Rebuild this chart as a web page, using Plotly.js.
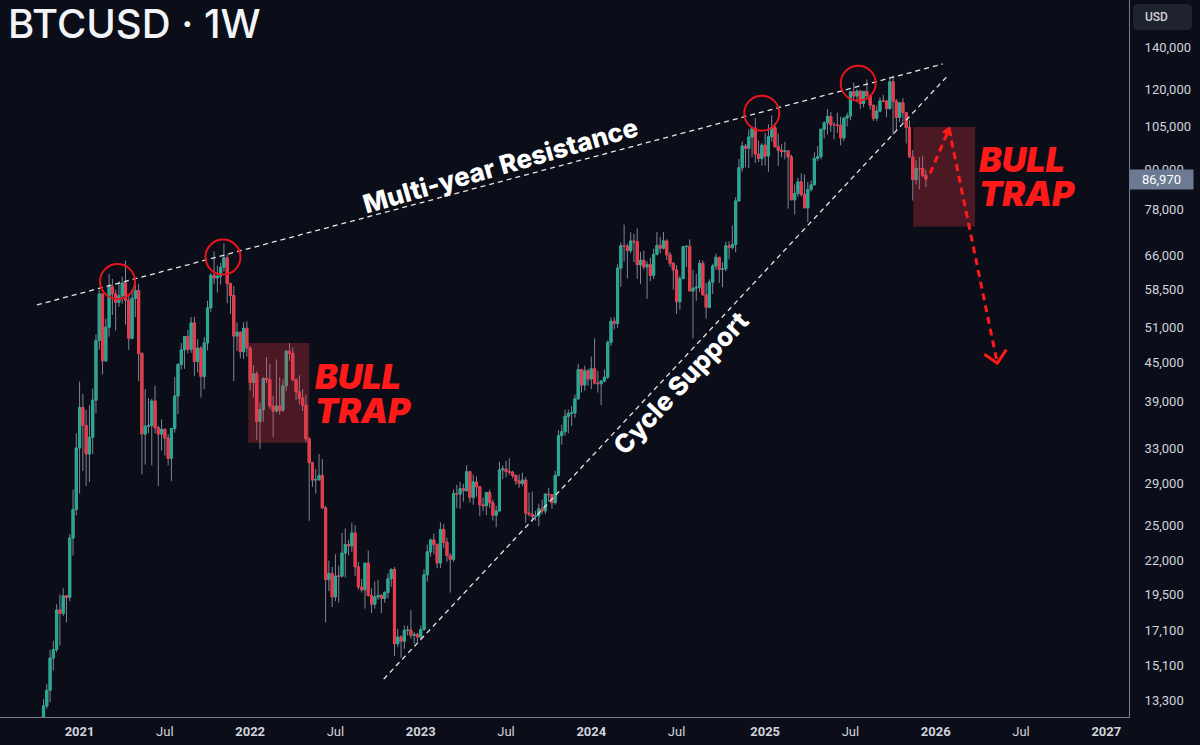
<!DOCTYPE html>
<html><head><meta charset="utf-8">
<script src="https://cdn.plot.ly/plotly-3.0.1.min.js"></script>
<style>html,body{margin:0;padding:0;background:#0b0e18;}#chart{width:1200px;height:745px;}</style>
</head><body><div id="chart"></div>
<script>
// ---------- weekly BTCUSD candles (week start dates) ----------
const weeks = [
'2020-10-19','2020-10-26','2020-11-02','2020-11-09','2020-11-16','2020-11-23','2020-11-30','2020-12-07','2020-12-14','2020-12-21','2020-12-28',
'2021-01-04','2021-01-11','2021-01-18','2021-01-25','2021-02-01','2021-02-08','2021-02-15','2021-02-22','2021-03-01','2021-03-08','2021-03-15','2021-03-22','2021-03-29','2021-04-05','2021-04-12','2021-04-19','2021-04-26','2021-05-03','2021-05-10','2021-05-17','2021-05-24','2021-05-31','2021-06-07','2021-06-14','2021-06-21','2021-06-28','2021-07-05','2021-07-12','2021-07-19','2021-07-26','2021-08-02','2021-08-09','2021-08-16','2021-08-23','2021-08-30','2021-09-06','2021-09-13','2021-09-20','2021-09-27','2021-10-04','2021-10-11','2021-10-18','2021-10-25','2021-11-01','2021-11-08','2021-11-15','2021-11-22','2021-11-29','2021-12-06','2021-12-13','2021-12-20','2021-12-27',
'2022-01-03','2022-01-10','2022-01-17','2022-01-24','2022-01-31','2022-02-07','2022-02-14','2022-02-21','2022-02-28','2022-03-07','2022-03-14','2022-03-21','2022-03-28','2022-04-04','2022-04-11','2022-04-18','2022-04-25','2022-05-02','2022-05-09','2022-05-16','2022-05-23','2022-05-30','2022-06-06','2022-06-13','2022-06-20','2022-06-27','2022-07-04','2022-07-11','2022-07-18','2022-07-25','2022-08-01','2022-08-08','2022-08-15','2022-08-22','2022-08-29','2022-09-05','2022-09-12','2022-09-19','2022-09-26','2022-10-03','2022-10-10','2022-10-17','2022-10-24','2022-10-31','2022-11-07','2022-11-14','2022-11-21','2022-11-28','2022-12-05','2022-12-12','2022-12-19','2022-12-26',
'2023-01-02','2023-01-09','2023-01-16','2023-01-23','2023-01-30','2023-02-06','2023-02-13','2023-02-20','2023-02-27','2023-03-06','2023-03-13','2023-03-20','2023-03-27','2023-04-03','2023-04-10','2023-04-17','2023-04-24','2023-05-01','2023-05-08','2023-05-15','2023-05-22','2023-05-29','2023-06-05','2023-06-12','2023-06-19','2023-06-26','2023-07-03','2023-07-10','2023-07-17','2023-07-24','2023-07-31','2023-08-07','2023-08-14','2023-08-21','2023-08-28','2023-09-04','2023-09-11','2023-09-18','2023-09-25','2023-10-02','2023-10-09','2023-10-16','2023-10-23','2023-10-30','2023-11-06','2023-11-13','2023-11-20','2023-11-27','2023-12-04','2023-12-11','2023-12-18','2023-12-25',
'2024-01-01','2024-01-08','2024-01-15','2024-01-22','2024-01-29','2024-02-05','2024-02-12','2024-02-19','2024-02-26','2024-03-04','2024-03-11','2024-03-18','2024-03-25','2024-04-01','2024-04-08','2024-04-15','2024-04-22','2024-04-29','2024-05-06','2024-05-13','2024-05-20','2024-05-27','2024-06-03','2024-06-10','2024-06-17','2024-06-24','2024-07-01','2024-07-08','2024-07-15','2024-07-22','2024-07-29','2024-08-05','2024-08-12','2024-08-19','2024-08-26','2024-09-02','2024-09-09','2024-09-16','2024-09-23','2024-09-30','2024-10-07','2024-10-14','2024-10-21','2024-10-28','2024-11-04','2024-11-11','2024-11-18','2024-11-25','2024-12-02','2024-12-09','2024-12-16','2024-12-23','2024-12-30',
'2025-01-06','2025-01-13','2025-01-20','2025-01-27','2025-02-03','2025-02-10','2025-02-17','2025-02-24','2025-03-03','2025-03-10','2025-03-17','2025-03-24','2025-03-31','2025-04-07','2025-04-14','2025-04-21','2025-04-28','2025-05-05','2025-05-12','2025-05-19','2025-05-26','2025-06-02','2025-06-09','2025-06-16','2025-06-23','2025-06-30','2025-07-07','2025-07-14','2025-07-21','2025-07-28','2025-08-04','2025-08-11','2025-08-18','2025-08-25','2025-09-01','2025-09-08','2025-09-15','2025-09-22','2025-09-29','2025-10-06','2025-10-13','2025-10-20','2025-10-27','2025-11-03','2025-11-10','2025-11-17','2025-11-24','2025-12-01','2025-12-08','2025-12-15'
];
const open = [
11500,13030,13780,15480,15960,18410,18180,19370,19270,23860,26450,
33000,38200,35800,32300,34300,39200,48600,57500,45200,51000,59000,57500,55800,57100,59800,56200,49000,56600,58200,46400,34700,35700,35800,39100,35500,34700,35300,34200,31800,35400,39800,44600,47000,49300,47100,51800,45100,47300,42700,48200,54700,61500,60900,61300,63300,65500,59700,57200,49400,50100,46700,50800,
47300,41800,43100,36300,37900,42400,42200,38400,37700,38400,37800,41300,46800,46400,42200,40400,39500,38500,34100,31300,29400,29450,29900,26600,20550,21000,19300,20800,20790,22600,23300,23200,24300,21500,20000,19800,21800,19400,18800,19300,19400,19200,19600,20600,21300,16300,16700,16450,17100,17120,16800,16850,
16700,17150,20900,22700,23700,23300,21800,24600,23500,22400,22100,28000,27950,28500,28300,30300,27600,29200,28700,26900,26800,28100,27100,25900,26300,30500,30600,30300,30250,29900,29300,29050,29400,26100,26000,25800,25850,26500,26300,27950,27900,27100,29900,34500,35000,37000,37400,37450,39400,43800,41400,43600,
42300,43900,41700,41600,42000,42600,48300,52100,51700,63100,68400,68300,67200,69600,69400,63900,64900,63400,63900,61500,66300,68500,67800,69600,66200,64200,62700,55900,60800,68200,68250,58100,58700,58900,64200,57300,54800,60000,63600,65600,62800,62900,68400,68000,68700,80400,90600,98000,97200,101200,104500,95200,93700,
98300,94500,101300,104700,97700,96500,96100,96300,94200,80700,82600,86100,82300,78400,83800,85200,93700,94300,104100,106500,109000,105700,105700,105600,100900,108400,109200,119100,117300,119400,114200,119300,117400,113500,108300,111100,115300,115250,112200,123500,115200,108600,114500,110500,104700,94200,86800,90400,90300,88200
];
const high = [
13350,14100,15960,16480,18790,19480,19920,19420,24200,28400,34800,
41950,40100,37850,38500,40900,49700,58350,57500,52600,61800,60700,58400,60200,61200,64850,57500,58400,59500,59600,46600,40800,39500,39400,41300,35750,36600,35400,34700,35400,42600,44800,48200,49400,50500,52900,52950,48850,47600,49200,56100,62000,67000,63700,64300,69000,66300,59900,59200,51900,50200,51900,52100,
47600,44500,43500,38900,42600,45800,44700,39800,45400,42600,42300,46900,48200,47400,42400,42900,40800,40000,34300,31400,30600,32300,31700,26800,22000,21500,22500,21600,24300,24700,23700,25200,25000,21900,20600,21800,22800,19900,20400,20500,19500,19700,21000,21400,21500,17200,16800,17400,17400,18400,17000,16950,
17400,21300,23300,23800,24250,23400,25250,25100,23900,22600,28400,28900,29200,29000,31000,30400,30000,29800,28700,27600,27500,28400,27400,26800,31400,31000,31500,31800,30400,30000,30000,30200,29700,28100,28200,26300,27000,27400,28000,28600,27900,30400,35200,35900,37900,37900,38400,40000,44700,43800,44400,43900,
45900,49000,43600,42200,43800,48600,52800,52900,64000,69200,73800,68900,71800,71400,72800,66900,67200,64700,65500,67700,71900,70600,71900,70000,66900,64500,63800,61400,68300,68500,70000,62700,61800,65000,64900,59800,60600,64100,66500,65600,64400,69400,69500,73600,81500,93500,99600,98700,104000,105200,108300,99900,99000,
102700,106000,109500,106500,102500,98800,99500,96500,95000,85300,87400,88800,88500,86100,86500,95800,97900,104300,107100,111900,110700,106800,110500,108900,108500,110500,119400,123200,120200,120000,119300,124500,117600,113600,113400,116800,117900,115400,125700,126200,116000,114000,116400,110800,107500,96600,93100,94200,94600,90000
];
const low = [
11400,12900,13200,14800,15800,16200,18000,17600,19000,22400,25900,
28000,30400,28800,29200,32300,37400,47000,43000,45000,49300,53300,50400,54900,55500,51500,47000,48800,52900,42000,30000,31100,34800,31000,34800,28800,32700,32100,31000,29300,34900,37300,43800,43900,46400,46500,42800,43300,39600,40800,46900,53900,59600,57800,59500,62300,55600,53500,42000,46800,45600,45500,45900,
40600,39600,34000,32900,36300,41700,38000,34300,37500,37200,37600,40500,45200,42000,39200,38600,37700,33700,25400,28700,28000,29300,26500,17600,19700,18600,19000,18900,20700,20700,22400,22700,20800,19800,19600,18500,19300,18200,18500,19100,18200,18900,19200,20000,15600,16100,15500,16000,16800,16600,16300,16400,
16500,17100,20400,22300,22500,21400,21400,23000,21900,19600,21900,26600,26500,27200,28200,27100,26900,27700,25800,26300,25900,26600,25400,24800,26300,29500,29700,29950,29600,28900,28600,28800,25200,25800,25300,25400,24900,26000,26000,27200,26500,26900,29800,33400,34500,34800,35700,36800,39300,40300,40600,41300,
40800,41500,40300,38500,41800,42300,47700,50600,50900,59000,64600,60800,66600,64500,60700,59600,62800,56500,60200,60700,66100,66600,67500,65000,63400,58400,53500,54300,60600,63400,61000,49000,56100,57900,57200,52600,54600,57500,62700,59800,58900,62400,65100,67500,66800,80200,89400,90800,90500,94200,92200,92500,91300,
91300,89300,99500,97800,91200,94100,93400,78200,81400,76600,81600,81600,81300,74500,83100,85100,92800,93400,100700,102100,103100,100400,102700,98200,99700,105100,107500,115700,114700,112000,112600,116800,111700,107300,107300,110600,114700,108700,111600,102000,103600,106700,106300,98900,94000,80500,85300,83800,87600,84500
];
const close = [
13030,13780,15480,15960,18410,18180,19370,19270,23860,26450,33000,
38200,35800,32300,34300,39200,48600,57500,45200,51000,59000,57500,55800,57100,59800,56200,49000,56600,58200,46400,34700,35700,35800,39100,35500,34700,35300,34200,31800,35400,39800,44600,47000,49300,47100,51800,45100,47300,42700,48200,54700,61500,60900,61300,63300,65500,59700,57200,49400,50100,46700,50800,47300,
41800,43100,36300,37900,42400,42200,38400,37700,38400,37800,41300,46800,46400,42200,40400,39500,38500,34100,31300,29400,29450,29900,26600,20550,21000,19300,20800,20790,22600,23300,23200,24300,21500,20000,19800,21800,19400,18800,19300,19400,19200,19600,20600,21300,16300,16700,16450,17100,17120,16800,16850,16700,
17150,20900,22700,23700,23300,21800,24600,23500,22400,22100,28000,27950,28500,28300,30300,27600,29200,28700,26900,26800,28100,27100,25900,26300,30500,30600,30300,30250,29900,29300,29050,29400,26100,26000,25800,25850,26500,26300,27950,27900,27100,29900,34500,35000,37000,37400,37450,39400,43800,41400,43600,42300,
43900,41700,41600,42000,42600,48300,52100,51700,63100,68400,68300,67200,69600,69400,63900,64900,63400,63900,61500,66300,68500,67800,69600,66200,64200,62700,55900,60800,68200,68250,58100,58700,58900,64200,57300,54800,60000,63600,65600,62800,62900,68400,68000,68700,80400,90600,98000,97200,101200,104500,95200,93700,98300,
94500,101300,104700,97700,96500,96100,96300,94200,80700,82600,86100,82300,78400,83800,85200,93700,94300,104100,106500,109000,105700,105700,105600,100900,108400,109200,119100,117300,119400,114200,119300,117400,113500,108300,111100,115300,115250,112200,123500,115200,108600,114500,110500,104700,94200,86800,90400,90300,88200,86970
];
const lastPrice = 86970;

// ---------- axis ticks ----------
const priceTicks = [13300,15100,17100,19500,22000,25000,29000,33000,39000,45000,51000,58500,66000,78000,90000,105000,120000,140000];
const timeTicks = ['2021-01-04','2021-07-05','2022-01-03','2022-07-04','2023-01-02','2023-07-03','2024-01-01','2024-07-01','2025-01-06','2025-07-07','2026-01-05','2026-07-06','2027-01-04'];
const timeTickLabels = ['2021','Jul','2022','Jul','2023','Jul','2024','Jul','2025','Jul','2026','Jul','2027'];

// ---------- drawings (date, price) ----------
const resistance = [['2020-10-05', 55270], ['2026-01-19 22:00', 131690]];
const support = [['2022-10-15', 14350], ['2026-02-01', 126580]];
const peakCircles = [['2021-03-26', 60130], ['2021-11-06', 65660], ['2024-12-29 19:00', 110270], ['2025-07-23 14:00', 122870]];
const trapBoxes = [[['2021-12-29 22:00', 33620], ['2022-05-09', 48190]], [['2025-11-18', 73340], ['2026-03-29 22:00', 104900]]];
const arrowPath = [['2025-12-23 22:00', 88760], ['2026-02-02 10:00', 104220], ['2026-05-16 10:00', 44800]];

// ---------- styles ----------
const BG = '#0b0e18', UP = '#22ab94', DOWN = '#f23645', WICK = '#7e8596', RED = '#ff1a1a';
const W = 1129, H = 717;
const px = v => v / W, py = v => 1 - v / H;
const L10 = v => Math.log10(v);

const bodyHigh = open.map((o, i) => Math.max(o, close[i]));
const bodyLow = open.map((o, i) => Math.min(o, close[i]));

const wickTrace = {
  type: 'candlestick', x: weeks, open: open, high: high, low: low, close: close,
  increasing: {line: {color: WICK, width: 1}, fillcolor: WICK},
  decreasing: {line: {color: WICK, width: 1}, fillcolor: WICK},
  whiskerwidth: 0, hoverinfo: 'skip', showlegend: false
};
const bodyTrace = {
  type: 'candlestick', x: weeks, open: open, high: bodyHigh, low: bodyLow, close: close,
  increasing: {line: {color: UP, width: 0.8}, fillcolor: UP},
  decreasing: {line: {color: DOWN, width: 0.8}, fillcolor: DOWN},
  whiskerwidth: 0, hoverinfo: 'skip', showlegend: false
};

function roundRect(x0, y0, x1, y1, r) {
  return 'M' + px(x0 + r) + ',' + py(y0) + ' L' + px(x1 - r) + ',' + py(y0) +
    ' Q' + px(x1) + ',' + py(y0) + ' ' + px(x1) + ',' + py(y0 + r) +
    ' L' + px(x1) + ',' + py(y1 - r) + ' Q' + px(x1) + ',' + py(y1) + ' ' + px(x1 - r) + ',' + py(y1) +
    ' L' + px(x0 + r) + ',' + py(y1) + ' Q' + px(x0) + ',' + py(y1) + ' ' + px(x0) + ',' + py(y1 - r) +
    ' L' + px(x0) + ',' + py(y0 + r) + ' Q' + px(x0) + ',' + py(y0) + ' ' + px(x0 + r) + ',' + py(y0) + ' Z';
}
// circle of radius r (pixels) as a bezier path around its anchor
function circlePath(r) {
  const k = 0.5523 * r;
  return 'M' + r + ',0 C' + r + ',' + k + ' ' + k + ',' + r + ' 0,' + r +
    ' C' + (-k) + ',' + r + ' ' + (-r) + ',' + k + ' ' + (-r) + ',0' +
    ' C' + (-r) + ',' + (-k) + ' ' + (-k) + ',' + (-r) + ' 0,' + (-r) +
    ' C' + k + ',' + (-r) + ' ' + r + ',' + (-k) + ' ' + r + ',0 Z';
}

const dashWhite = {color: '#e6e6e6', width: 1.3, dash: '5px,4px'};
const dashRed = {color: RED, width: 3, dash: '7px,5px'};
const shapes = [];
trapBoxes.forEach(b => shapes.push({type: 'rect', xref: 'x', yref: 'y', x0: b[0][0], y0: b[0][1], x1: b[1][0], y1: b[1][1],
  fillcolor: 'rgba(242,54,69,0.28)', line: {width: 0}, layer: 'above'}));
[resistance, support].forEach(l => shapes.push({type: 'line', xref: 'x', yref: 'y', x0: l[0][0], y0: l[0][1], x1: l[1][0], y1: l[1][1], line: dashWhite, layer: 'above'}));
peakCircles.forEach(c => shapes.push({type: 'path', xref: 'x', yref: 'y', xsizemode: 'pixel', ysizemode: 'pixel',
  xanchor: c[0], yanchor: c[1], path: circlePath(17.5), line: {color: '#e8141c', width: 2}, layer: 'above'}));
shapes.push({type: 'line', xref: 'x', yref: 'y', x0: arrowPath[0][0], y0: arrowPath[0][1], x1: arrowPath[1][0], y1: arrowPath[1][1], line: dashRed, layer: 'above'});
shapes.push({type: 'line', xref: 'x', yref: 'y', x0: arrowPath[1][0], y0: arrowPath[1][1], x1: arrowPath[2][0], y1: arrowPath[2][1], line: dashRed, layer: 'above'});
shapes.push({type: 'path', xref: 'x', yref: 'y', xsizemode: 'pixel', ysizemode: 'pixel', xanchor: arrowPath[1][0], yanchor: arrowPath[1][1],
  path: 'M0.8,2 L2.5,-7 L-6.5,-3 Z', fillcolor: RED, line: {color: RED, width: 1}, layer: 'above'});
shapes.push({type: 'path', xref: 'x', yref: 'y', xsizemode: 'pixel', ysizemode: 'pixel', xanchor: arrowPath[2][0], yanchor: arrowPath[2][1],
  path: 'M-13,9 L0,0 L9,13.5', line: {color: RED, width: 3}, layer: 'above'});
// currency box
shapes.push({type: 'path', xref: 'paper', yref: 'paper', path: roundRect(1133, 4, 1192, 30, 5), fillcolor: '#1f232e', line: {width: 0}, layer: 'above'});

const trapFont = {family: 'Inter, Liberation Sans, sans-serif', size: 34, color: RED, weight: 900, style: 'italic'};
const labelFont = {family: 'Inter, sans-serif', size: 26, color: '#ffffff', weight: 800};
const trapText = (x, price, text) => ({xref: 'x', yref: 'y', x: x, y: L10(price), xanchor: 'left', yanchor: 'middle',
  height: 30, valign: 'middle', borderpad: 0, showarrow: false, text: text, font: trapFont});
const annotations = [
  {xref: 'paper', yref: 'paper', x: px(6), y: py(23), xanchor: 'left', yanchor: 'middle', showarrow: false,
   text: 'BTCUSD · 1W', font: {family: 'Inter, sans-serif', size: 40, color: '#f2f4f8', weight: 500}},
  {xref: 'paper', yref: 'paper', x: px(1143), y: py(17), xanchor: 'left', yanchor: 'middle', showarrow: false,
   text: 'USD', font: {family: 'Roboto, sans-serif', size: 12, color: '#d1d4dc', weight: 500}},
  // last price tag (drawn over the 90,000 tick like the reference)
  {xref: 'paper', yref: 'y', x: px(1129), y: L10(lastPrice), xanchor: 'left', yanchor: 'middle', showarrow: false,
   text: lastPrice.toLocaleString('en-US'), width: 63, height: 19, borderpad: 0, align: 'center', valign: 'middle',
   bgcolor: '#6c7a93', font: {family: 'Roboto, sans-serif', size: 13, color: '#ffffff'}},
  {xref: 'x', yref: 'y', x: '2023-06-20', y: L10(91500), showarrow: false, textangle: -16, text: 'Multi-year Resistance', font: labelFont},
  {xref: 'x', yref: 'y', x: '2024-07-10 17:00', y: L10(41750), showarrow: false, textangle: -47, text: 'Cycle Support', font: labelFont},
  trapText('2022-05-20', 42710, 'BULL'),
  trapText('2022-05-20', 37790, 'TRAP'),
  trapText('2026-04-06', 93660, 'BULL'),
  trapText('2026-04-06', 82830, 'TRAP')
];

const layout = {
  width: 1200, height: 745,
  paper_bgcolor: BG, plot_bgcolor: BG,
  margin: {l: 0, r: 71, t: 0, b: 28, pad: 0},
  showlegend: false, hovermode: false,
  boxgap: 0.2, boxgroupgap: 0.2,
  xaxis: {
    type: 'date', range: ['2020-07-18 04:20', '2027-02-21 10:00'], rangeslider: {visible: false},
    showgrid: false, zeroline: false, ticks: '', tickmode: 'array', tickvals: timeTicks,
    ticktext: timeTickLabels.map(t => t === 'Jul' ? t : '<b>' + t + '</b>'),
    tickfont: {family: 'Roboto, sans-serif', size: 13, color: '#d1d4dc'},
    showline: true, linecolor: '#787b86', linewidth: 1, ticklabelstandoff: 2
  },
  yaxis: {
    type: 'log', side: 'right', range: [4.097549, 5.219685],
    showgrid: false, zeroline: false, ticks: '', tickmode: 'array', tickvals: priceTicks,
    ticktext: priceTicks.map(v => v.toLocaleString('en-US')),
    tickfont: {family: 'Roboto, sans-serif', size: 13, color: '#d1d4dc'},
    showline: true, linecolor: '#787b86', linewidth: 1, ticklabelstandoff: 12
  },
  shapes: shapes,
  annotations: annotations
};

Plotly.newPlot('chart', [wickTrace, bodyTrace], layout, {staticPlot: true, displayModeBar: false});
</script>
</body></html>
